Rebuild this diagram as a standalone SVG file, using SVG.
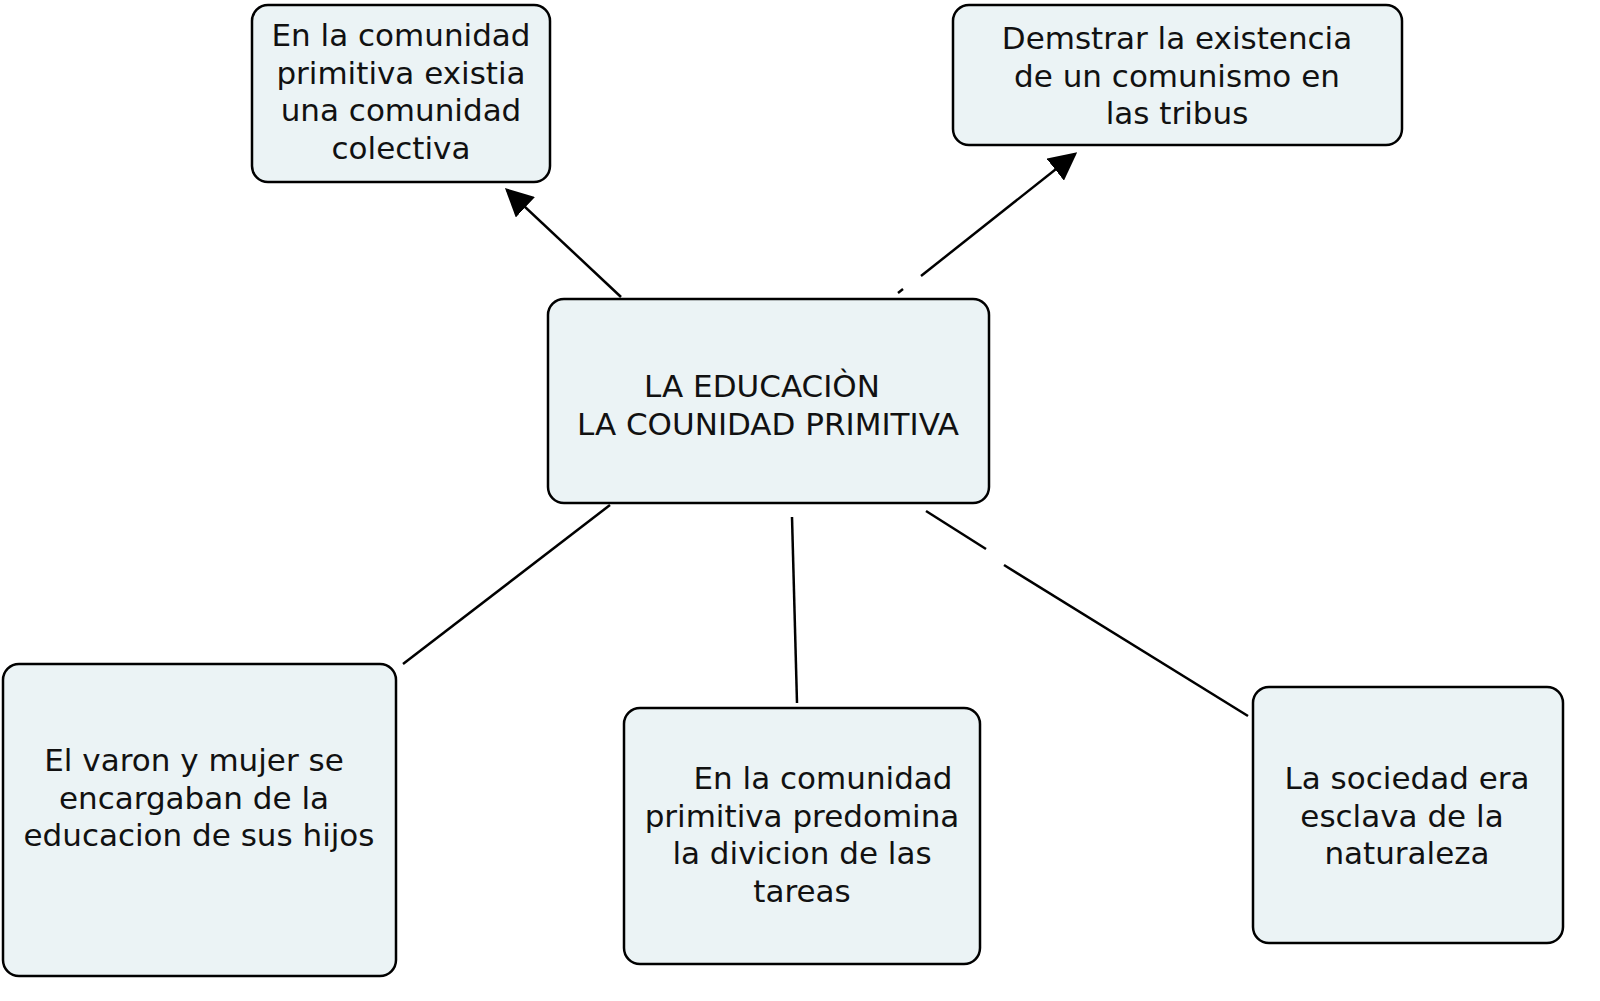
<svg xmlns="http://www.w3.org/2000/svg" width="1600" height="1001" viewBox="0 0 1600 1001">
<style>
.n{fill:#ebf3f5;stroke:#000;stroke-width:2.5}
text{font-family:"DejaVu Sans",Verdana,sans-serif;font-size:31px;fill:#111;text-anchor:middle}
.c line{stroke:#000;stroke-width:2.5}
</style>
<defs>
<marker id="b" viewBox="0 0 10 10" refX="9" refY="5" markerWidth="28" markerHeight="28" markerUnits="userSpaceOnUse" orient="auto"><path d="M0,0L10,5L0,10z"/></marker></defs>
<rect width="1600" height="1001" fill="#fff"/>
<g class="c">
<line x1="621" y1="297" x2="507" y2="190" marker-end="url(#b)"/>
<line x1="898" y1="293" x2="903" y2="289"/>
<line x1="921" y1="276" x2="1075" y2="154" marker-end="url(#b)"/>
<line x1="610" y1="505" x2="403" y2="664"/>
<line x1="792" y1="517" x2="797" y2="703"/>
<line x1="926" y1="511" x2="986" y2="549"/>
<line x1="1004" y1="565" x2="1248" y2="716"/>
</g>
<g id="n1"><rect class="n" x="252" y="5" width="298" height="177" rx="16"/>
<text x="401" y="46">En la comunidad</text><text x="401" y="84">primitiva existia</text><text x="401" y="121">una comunidad</text><text x="401" y="159">colectiva</text></g>
<g id="n2"><rect class="n" x="953" y="5" width="449" height="140" rx="16"/>
<text x="1177" y="49">Demstrar la existencia</text><text x="1177" y="87">de un comunismo en</text><text x="1177" y="124">las tribus</text></g>
<g id="n0"><rect class="n" x="548" y="299" width="441" height="204" rx="16"/>
<text x="762" y="397">LA EDUCACIÒN</text><text x="768" y="435">LA COUNIDAD PRIMITIVA</text></g>
<g id="n3"><rect class="n" x="3" y="664" width="393" height="312" rx="16"/>
<text x="194" y="771">El varon y mujer se</text><text x="194" y="809">encargaban de la</text><text x="199" y="846">educacion de sus hijos</text></g>
<g id="n4"><rect class="n" x="624" y="708" width="356" height="256" rx="16"/>
<text x="823" y="789">En la comunidad</text><text x="802" y="827">primitiva predomina</text><text x="802" y="864">la divicion de las</text><text x="802" y="902">tareas</text></g>
<g id="n5"><rect class="n" x="1253" y="687" width="310" height="256" rx="16"/>
<text x="1407" y="789">La sociedad era</text><text x="1402" y="827">esclava de la</text><text x="1407" y="864">naturaleza</text></g>
</svg>
